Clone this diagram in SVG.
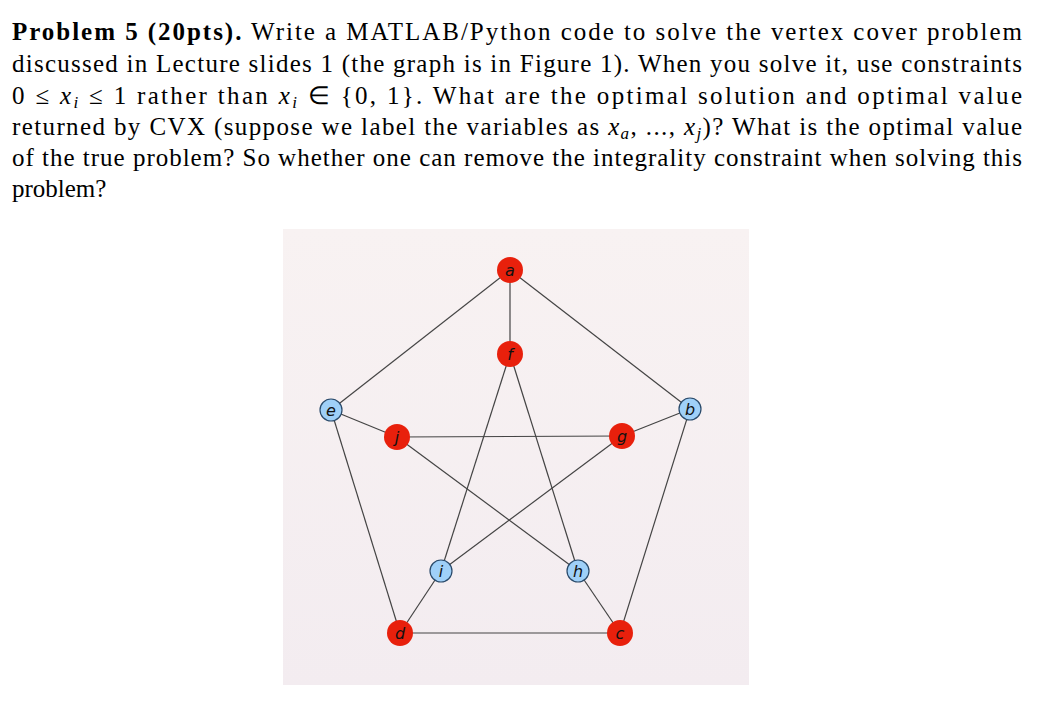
<svg xmlns="http://www.w3.org/2000/svg" width="1053" height="709" viewBox="0 0 1053 709">
<style>
.t{font-family:"Liberation Serif",serif;font-size:25px;fill:#000}
.m{font-style:italic}
.e{stroke:#444;stroke-width:1.2;fill:none}
.r{fill:#e8200c}
.bl{fill:#9fd0f8;stroke:#2a4a6a;stroke-width:1.2}
.l{font-family:"DejaVu Sans",sans-serif;font-style:italic;font-size:16px;fill:#111;text-anchor:middle}
</style>
<rect width="1053" height="709" fill="#fff"/>
<g id="text">
<text class="t" x="12" y="40" textLength="1010" lengthAdjust="spacing"><tspan font-weight="bold">Problem 5 (20pts).</tspan> Write a MATLAB/Python code to solve the vertex cover problem</text>
<text class="t" x="12" y="72" textLength="1010" lengthAdjust="spacing">discussed in Lecture slides 1 (the graph is in Figure 1). When you solve it, use constraints</text>
<text class="t" x="12" y="104" textLength="1010" lengthAdjust="spacing">0 ≤ <tspan class="m">x<tspan font-size="17" dy="4">i</tspan></tspan><tspan dy="-4"> ≤ 1 rather than </tspan><tspan class="m">x<tspan font-size="17" dy="4">i</tspan></tspan><tspan dy="-4"> ∈ {0, 1}. What are the optimal solution and optimal value</tspan></text>
<text class="t" x="12" y="135" textLength="1010" lengthAdjust="spacing">returned by CVX (suppose we label the variables as <tspan class="m">x<tspan font-size="17" dy="4">a</tspan></tspan><tspan dy="-4">, ..., </tspan><tspan class="m">x<tspan font-size="17" dy="4">j</tspan></tspan><tspan dy="-4">)? What is the optimal value</tspan></text>
<text class="t" x="12" y="166" textLength="1010" lengthAdjust="spacing">of the true problem? So whether one can remove the integrality constraint when solving this</text>
<text class="t" x="12" y="197">problem?</text>
</g>
<defs><linearGradient id="bg" x1="0" y1="0" x2="0" y2="1"><stop offset="0" stop-color="#f8f2f2"/><stop offset="1" stop-color="#f3ecf0"/></linearGradient></defs>
<rect x="283" y="229" width="466" height="456" fill="url(#bg)"/>
<g id="edges">
<line class="e" x1="510" y1="270" x2="331" y2="410"/>
<line class="e" x1="510" y1="270" x2="690" y2="409"/>
<line class="e" x1="510" y1="270" x2="510" y2="354"/>
<line class="e" x1="331" y1="410" x2="397" y2="437"/>
<line class="e" x1="331" y1="410" x2="400" y2="633"/>
<line class="e" x1="690" y1="409" x2="622" y2="436"/>
<line class="e" x1="690" y1="409" x2="620" y2="633"/>
<line class="e" x1="397" y1="437" x2="622" y2="436"/>
<line class="e" x1="397" y1="437" x2="578" y2="571"/>
<line class="e" x1="622" y1="436" x2="441" y2="571"/>
<line class="e" x1="510" y1="354" x2="441" y2="571"/>
<line class="e" x1="510" y1="354" x2="578" y2="571"/>
<line class="e" x1="441" y1="571" x2="400" y2="633"/>
<line class="e" x1="578" y1="571" x2="620" y2="633"/>
<line class="e" x1="400" y1="633" x2="620" y2="633"/>
</g>
<g id="a"><circle class="r" cx="510" cy="270" r="13"/><text class="l" x="510" y="276">a</text></g>
<g id="f"><circle class="r" cx="510" cy="354" r="13"/><text class="l" x="510" y="360">f</text></g>
<g id="e"><circle class="bl" cx="331" cy="410" r="11"/><text class="l" x="331" y="416">e</text></g>
<g id="b"><circle class="bl" cx="690" cy="409" r="11"/><text class="l" x="690" y="415">b</text></g>
<g id="j"><circle class="r" cx="397" cy="437" r="13"/><text class="l" x="397" y="443">j</text></g>
<g id="g"><circle class="r" cx="622" cy="436" r="13"/><text class="l" x="622" y="442">g</text></g>
<g id="i"><circle class="bl" cx="441" cy="571" r="11"/><text class="l" x="441" y="577">i</text></g>
<g id="h"><circle class="bl" cx="578" cy="571" r="11"/><text class="l" x="578" y="577">h</text></g>
<g id="d"><circle class="r" cx="400" cy="633" r="13"/><text class="l" x="400" y="639">d</text></g>
<g id="c"><circle class="r" cx="620" cy="633" r="13"/><text class="l" x="620" y="639">c</text></g>
</svg>
